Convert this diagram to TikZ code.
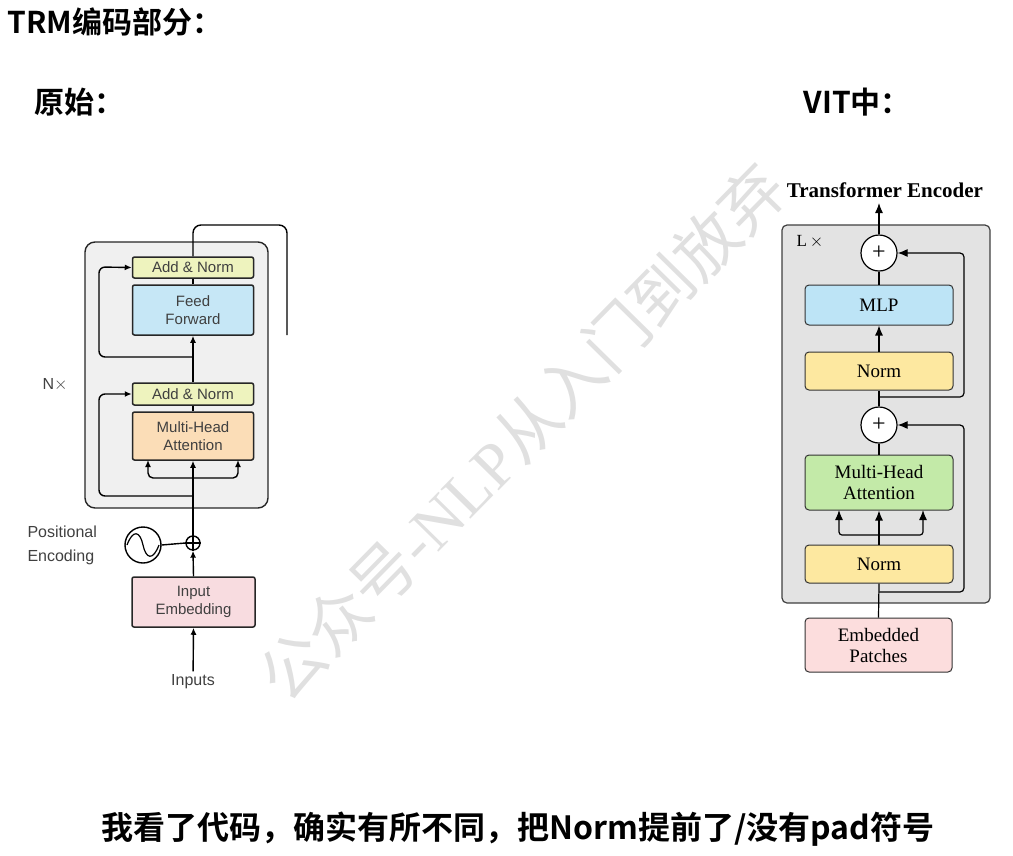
\documentclass[tikz,border=0pt]{standalone}
\usepackage{fontspec}
\setmainfont{Liberation Serif}
\newfontfamily\cjk{Noto Sans CJK SC}[BoldFont={Noto Sans CJK SC Bold}]
\newfontfamily\helv{Liberation Sans}
\usetikzlibrary{arrows.meta}
\definecolor{anc}{HTML}{EEF3BE}
\definecolor{ffc}{HTML}{C6E7F6}
\definecolor{mhc}{HTML}{FBDDB7}
\definecolor{iec}{HTML}{F8DCE0}
\definecolor{mlpc}{HTML}{BDE4F6}
\definecolor{nmc}{HTML}{FDE8A0}
\definecolor{rmc}{HTML}{C3EAA8}
\definecolor{epc}{HTML}{FCDDDD}
\begin{document}
\begin{tikzpicture}[x=1pt,y=-1pt,
  lbox/.style={draw=black!85,line width=1.5pt,rounded corners=2pt,font=\helv\fontsize{15}{18}\selectfont,text=black!75,align=center,inner sep=0pt},
  rbox/.style={draw=black!80,line width=1pt,rounded corners=4pt,font=\fontsize{19}{21}\selectfont,align=center,inner sep=0pt},
  la/.style={line width=1.4pt,-{Latex[length=7pt,width=6pt]}},
  ln/.style={line width=1.4pt},
  ra/.style={line width=1.2pt,-{Latex[length=10pt,width=8pt]}},
  rn/.style={line width=1.2pt},
  hd/.style={font=\cjk\bfseries\fontsize{30}{34}\selectfont,anchor=west}]
\useasboundingbox (0,0) rectangle (1013,855);
% headings
\node[hd] (h1) at (4,22) {TRM编码部分：};
\node[hd] (h2) at (31,102) {原始：};
\node[hd] (h3) at (800,102) {VIT中：};
\node[font=\cjk\bfseries\fontsize{32}{36}\selectfont] (foot) at (518,829) {我看了代码，确实有所不同，把Norm提前了/没有pad符号};
% watermark
\node[font=\fontsize{64}{66}\selectfont,text=black!12,rotate=45.5,inner sep=0pt] (wm) at (522,432) {{\cjk 公众号}-NLP{\cjk 从入门到放弃}};
% ---------- left ----------
\fill[black!6,draw=black!85,line width=1.4pt,rounded corners=10pt] (85,242) rectangle (268,508);
\node[lbox,fill=anc,minimum width=121pt,minimum height=21pt] (an1) at (193,267.5) {Add \& Norm};
\node[lbox,fill=ffc,minimum width=121pt,minimum height=50pt] (ff) at (193,310) {Feed\\Forward};
\node[lbox,fill=anc,minimum width=121pt,minimum height=22pt] (an2) at (193,394) {Add \& Norm};
\node[lbox,fill=mhc,minimum width=121pt,minimum height=48pt] (mha) at (193,436) {Multi-Head\\Attention};
\node[lbox,fill=iec,minimum width=123pt,minimum height=50pt] (emb) at (193.5,602) {Input\\Embedding};
\node[font=\helv\fontsize{16}{18}\selectfont,text=black!75] (inp) at (193,682) {Inputs};
\node[font=\helv\fontsize{16}{18}\selectfont,text=black!75] (nx) at (55,385) {N$\times$};
\node[font=\helv\fontsize{16}{24}\selectfont,text=black!75,align=left,anchor=west] (pe) at (24,545) {Positional\\Encoding};
\node[draw,circle,line width=1.4pt,minimum size=14pt,inner sep=0pt] (plus) at (193,543) {};
\draw[line width=1.2pt] (plus.north)--(plus.south) (plus.west)--(plus.east);
\node[draw,circle,line width=1.4pt,minimum size=36pt,inner sep=0pt] (sine) at (143,545) {};
\draw[line width=1.2pt] (127,545) .. controls (133,529) and (140,531) .. (143,545) .. controls (146,559) and (153,561) .. (159,545);
\draw[ln] (sine.east)--(plus.west);
\draw[la] (inp)--(emb.south);
\draw[la] (emb.north)--(plus.south);
\draw[la] (plus.north)--(mha.south);
\coordinate (b1) at (193,478);
\draw[la,rounded corners=5pt] (b1)-|(148,460);
\draw[la,rounded corners=5pt] (b1)-|(238,460);
\draw[la,rounded corners=6pt] (193,496)-|(99,394)--(an2.west);
\draw[ln] (mha.north)--(an2.south);
\draw[la] (an2.north)--(ff.south);
\draw[la,rounded corners=6pt] (193,357)-|(99,267)--(an1.west);
\draw[ln] (ff.north)--(an1.south);
\draw[ln,rounded corners=8pt] (an1.north)--(193,225)-|(287,335);
% ---------- right ----------
\fill[black!11,draw=black!75,line width=1.2pt,rounded corners=5pt] (782,225) rectangle (990,603);
\node[font=\bfseries\fontsize{21}{24}\selectfont] (tit) at (885,190) {Transformer Encoder};
\node[font=\fontsize{17}{19}\selectfont] (lx) at (810,242) {L\,$\times$};
\node[draw,circle,fill=white,line width=1.2pt,minimum size=36pt,inner sep=0pt,font=\fontsize{24}{24}\selectfont] (p1) at (879,253) {+};
\node[rbox,fill=mlpc,minimum width=148pt,minimum height=40pt] (mlp) at (879,305) {MLP};
\node[rbox,fill=nmc,minimum width=148pt,minimum height=38pt] (n1) at (879,371) {Norm};
\node[draw,circle,fill=white,line width=1.2pt,minimum size=36pt,inner sep=0pt,font=\fontsize{24}{24}\selectfont] (p2) at (879,425) {+};
\node[rbox,fill=rmc,minimum width=148pt,minimum height=55pt] (rm) at (879,482.5) {Multi-Head\\Attention};
\node[rbox,fill=nmc,minimum width=148pt,minimum height=38pt] (n2) at (879,564) {Norm};
\node[rbox,fill=epc,minimum width=147pt,minimum height=54pt] (ep) at (878.5,645) {Embedded\\Patches};
\draw[rn] (ep.north)--(n2.south);
\draw[rn] (n2.north)--(879,535);
\coordinate (b2) at (879,535);
\draw[ra] (b2)--(rm.south);
\draw[ra,rounded corners=3pt] (b2)-|(839,510);
\draw[ra,rounded corners=3pt] (b2)-|(923,510);
\draw[ra,rounded corners=4pt] (879,592)-|(964,425)--(p2.east);
\draw[rn] (rm.north)--(p2.south);
\draw[rn] (p2.north)--(n1.south);
\draw[ra] (n1.north)--(mlp.south);
\draw[ra,rounded corners=4pt] (879,397)-|(964,253)--(p1.east);
\draw[rn] (mlp.north)--(p1.south);
\draw[ra] (p1.north)--(879,203);
\end{tikzpicture}
\end{document}
